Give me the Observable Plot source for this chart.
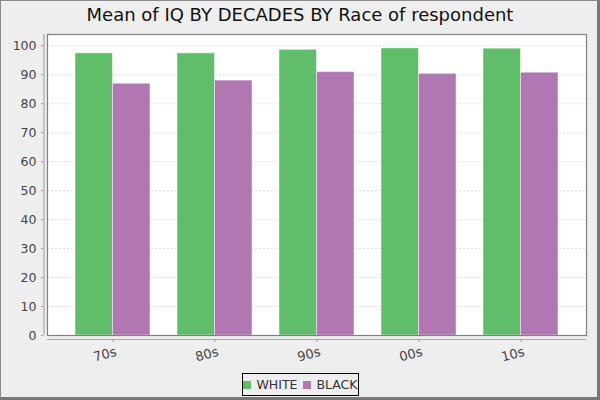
<!DOCTYPE html>
<html>
<head>
<meta charset="utf-8">
<script src="https://cdn.jsdelivr.net/npm/d3@7"></script>
<script src="https://cdn.jsdelivr.net/npm/@observablehq/plot@0.6"></script>
<style>
  html, body { margin: 0; padding: 0; background: #eeeeee; }
  #wrap { position: relative; width: 600px; height: 400px; background: #eeeeee; overflow: hidden; font-family: "DejaVu Sans", sans-serif; }
  #wrap svg { position: absolute; left: 0; top: 0; }
  #border { position: absolute; left: 0; top: 0; width: 600px; height: 400px; box-sizing: border-box;
            border-left: 1px solid #8a8a8a; border-top: 1px solid #8a8a8a; border-right: 3px solid #777; border-bottom: 3px solid #777; pointer-events: none; }
  #title { position: absolute; left: 0; top: 4px; width: 600px; text-align: center; font-size: 18px; line-height: 21px; color: #111; }
  #legend { position: absolute; left: 242px; top: 373px; width: 117px; height: 23px; box-sizing: border-box; border: 1px solid #000;
            display: flex; align-items: center; justify-content: center; font-size: 12.5px; color: #333; background: #eeeeee; }
  #legend .sw { display: inline-block; width: 8px; height: 8px; margin-right: 5px; }
  #legend .item { display: flex; align-items: center; }
  #legend .item + .item { margin-left: 6px; }
</style>
</head>
<body>
<div id="wrap">
  <div id="title">Mean of IQ BY DECADES BY Race of respondent</div>
  <div id="legend"></div>
  <div id="border"></div>
</div>
<script>
const decades = ["70s", "80s", "90s", "00s", "10s"];
const whiteMeans = [97.4, 97.4, 98.6, 99.1, 99.0];
const blackMeans = [86.9, 88.0, 90.9, 90.3, 90.7];
const races = ["WHITE", "BLACK"];
const raceColors = ["#60be6a", "#b077b2"];
const yTicks = [0, 10, 20, 30, 40, 50, 60, 70, 80, 90, 100];
const gridTicks = [10, 20, 30, 40, 50, 60, 70, 80, 90, 100];

const rows = decades.map((d, i) => ({decade: d, WHITE: whiteMeans[i], BLACK: blackMeans[i]}));

const chart = Plot.plot({
  width: 600,
  height: 400,
  marginLeft: 47,
  marginRight: 14,
  marginTop: 34,
  marginBottom: 65,
  style: {background: "transparent", fontFamily: "DejaVu Sans", fontSize: "12px", color: "#444"},
  x: {domain: decades, padding: 0.267, label: null},
  y: {domain: [0, 103.9], label: null},
  marks: [
    Plot.frame({fill: "white"}),
    Plot.ruleY(gridTicks, {stroke: "#dddddd", strokeDasharray: "2,2"}),
    Plot.barY(rows, {x: "decade", y: races[0], fill: raceColors[0], insetRight: 37.5, stroke: "white", strokeOpacity: 0.45}),
    Plot.barY(rows, {x: "decade", y: races[1], fill: raceColors[1], insetLeft: 37.5, stroke: "white", strokeOpacity: 0.45}),
    Plot.frame({stroke: "#808080", strokeWidth: 1.2}),
    Plot.ruleY([0], {dy: 4, stroke: "#aaaaaa"}),
    Plot.ruleX([decades[0]], {dx: -69, stroke: "#999999"}),
    Plot.axisY(yTicks, {tickSize: 2, dx: -4, tickPadding: 5, stroke: "#999", fill: "#444", fontSize: 12.5, label: null}),
    Plot.axisX({tickSize: 3, dy: 4, stroke: "#999", tickFormat: () => "", label: null}),
    Plot.text(decades, {x: d => d, frameAnchor: "bottom", dy: 23, dx: -7, rotate: -15, fill: "#444", fontSize: 13})
  ]
});
document.getElementById("wrap").insertBefore(chart, document.getElementById("title"));

const legend = document.getElementById("legend");
races.forEach((r, i) => {
  const item = document.createElement("span");
  item.className = "item";
  const sw = document.createElement("span");
  sw.className = "sw";
  sw.style.background = raceColors[i];
  item.appendChild(sw);
  item.appendChild(document.createTextNode(r));
  legend.appendChild(item);
});
</script>
</body>
</html>
